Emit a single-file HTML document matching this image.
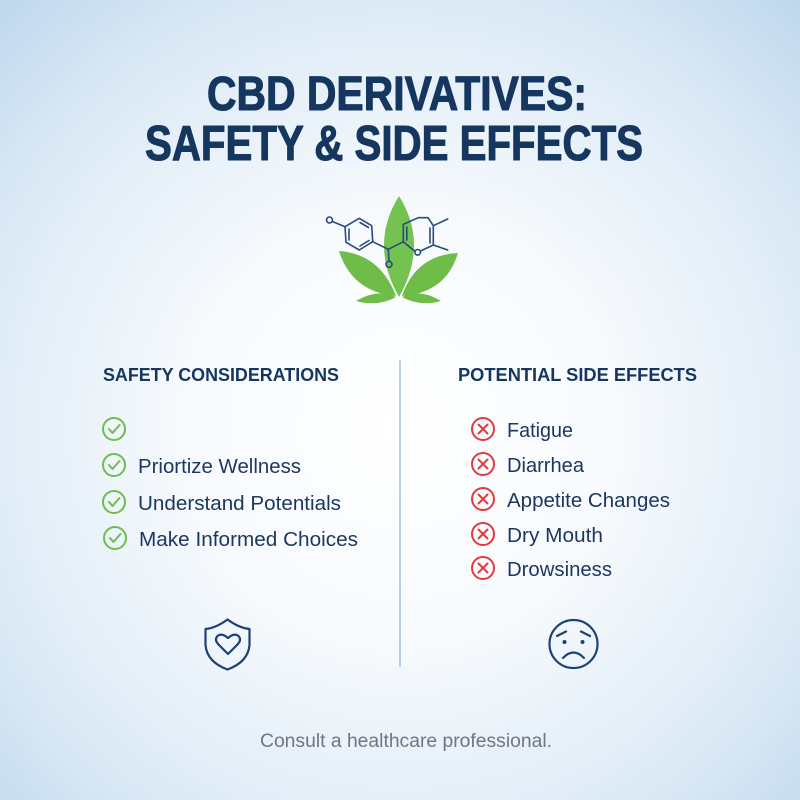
<!DOCTYPE html>
<html>
<head>
<meta charset="utf-8">
<style>
  html,body{margin:0;padding:0;width:800px;height:800px;overflow:hidden;}
  svg{display:block;}
</style>
</head>
<body>
<svg width="800" height="800" viewBox="0 0 800 800" xmlns="http://www.w3.org/2000/svg">
  <defs>
    <radialGradient id="bg" cx="400" cy="430" r="620" gradientUnits="userSpaceOnUse">
      <stop offset="0" stop-color="#ffffff"/>
      <stop offset="0.35" stop-color="#f7fafd"/>
      <stop offset="0.7" stop-color="#dceaf6"/>
      <stop offset="1" stop-color="#b9d4eb"/>
    </radialGradient>
  </defs>
  <rect width="800" height="800" fill="url(#bg)"/>

  <!-- Title -->
  <g font-family="Liberation Sans, Arial, sans-serif" font-weight="bold" fill="#15365f" stroke="#15365f" stroke-width="1.1" stroke-linejoin="round">
    <text x="207" y="110" font-size="48" textLength="380" lengthAdjust="spacingAndGlyphs">CBD DERIVATIVES:</text>
    <text x="145" y="160" font-size="49" textLength="498" lengthAdjust="spacingAndGlyphs">SAFETY &amp; SIDE EFFECTS</text>
  </g>

  <!-- Leaves -->
  <g fill="#6fbd48">
    <path d="M399,297 Q429,244 399,196 Q369,244 399,297 Z" fill="#74c24f"/>
    <path d="M396,296 Q380,254 339,251 Q352,292 396,296 Z"/>
    <path d="M402,296 Q416,255 458,253 Q446,293 402,296 Z"/>
    <path d="M396,297 Q378,288 356,301 Q378,307 396,297 Z"/>
    <path d="M402,297 Q420,288 441,301 Q420,307 402,297 Z"/>
  </g>

  <!-- Molecule -->
  <g fill="none" stroke="#2a4a7a" stroke-width="1.6" stroke-linejoin="round" stroke-linecap="round">
    <circle cx="329.5" cy="220" r="3"/>
    <line x1="332.5" y1="221.5" x2="345" y2="226.7"/>
    <polygon points="359.3,218.3 371.7,225.7 372.7,241.7 359.3,250 346,242.3 345,226.7"/>
    <line x1="349" y1="229" x2="349" y2="240"/>
    <line x1="360" y1="246" x2="369" y2="240.5"/>
    <line x1="360" y1="222.5" x2="368.5" y2="227.5"/>
    <line x1="372.7" y1="241.7" x2="388.3" y2="249.3"/>
    <line x1="388.3" y1="249.3" x2="389" y2="261"/>
    <circle cx="389" cy="264.3" r="3"/>
    <line x1="388.3" y1="249.3" x2="403.3" y2="241.7"/>
    <polyline points="403.3,241.7 403.3,224.3 418.3,217.7 428,217.7 433.3,225.7 433.3,245 420.5,251"/>
    <line x1="414.5" y1="251" x2="403.3" y2="241.7"/>
    <circle cx="417.7" cy="252.3" r="2.8"/>
    <line x1="406.8" y1="227" x2="406.8" y2="240"/>
    <line x1="430" y1="228" x2="430" y2="243"/>
    <line x1="433.3" y1="225.7" x2="447.7" y2="219"/>
    <line x1="433.3" y1="245" x2="447.7" y2="250"/>
  </g>

  <!-- Divider -->
  <line x1="400" y1="360" x2="400" y2="667" stroke="#a3c1dc" stroke-width="1.5"/>

  <!-- Headers -->
  <g font-family="Liberation Sans, Arial, sans-serif" font-weight="bold" fill="#15365f" font-size="18">
    <text x="103" y="381" textLength="236" lengthAdjust="spacingAndGlyphs">SAFETY CONSIDERATIONS</text>
    <text x="458" y="381" textLength="239" lengthAdjust="spacingAndGlyphs">POTENTIAL SIDE EFFECTS</text>
  </g>

  <!-- Checks -->
  <g fill="none" stroke="#6cc04a" stroke-width="2" stroke-linecap="round" stroke-linejoin="round">
    <g transform="translate(114,429)"><circle r="11"/><path d="M-5,0 L-1.5,4 L5.5,-4"/></g>
    <g transform="translate(114,465)"><circle r="11"/><path d="M-5,0 L-1.5,4 L5.5,-4"/></g>
    <g transform="translate(114,502)"><circle r="11"/><path d="M-5,0 L-1.5,4 L5.5,-4"/></g>
    <g transform="translate(115,538)"><circle r="11"/><path d="M-5,0 L-1.5,4 L5.5,-4"/></g>
  </g>
  <g font-family="Liberation Sans, Arial, sans-serif" fill="#1b365f" font-size="20.5">
    <text x="138" y="473" textLength="163" lengthAdjust="spacingAndGlyphs">Priortize Wellness</text>
    <text x="138" y="510" textLength="203" lengthAdjust="spacingAndGlyphs">Understand Potentials</text>
    <text x="139" y="546" textLength="219" lengthAdjust="spacingAndGlyphs">Make Informed Choices</text>
  </g>

  <!-- X marks -->
  <g fill="none" stroke="#e03a3e" stroke-width="2" stroke-linecap="round">
    <g transform="translate(483,429)"><circle r="11"/><path d="M-4.5,-4.5 L4.5,4.5 M4.5,-4.5 L-4.5,4.5"/></g>
    <g transform="translate(483,464)"><circle r="11"/><path d="M-4.5,-4.5 L4.5,4.5 M4.5,-4.5 L-4.5,4.5"/></g>
    <g transform="translate(483,499)"><circle r="11"/><path d="M-4.5,-4.5 L4.5,4.5 M4.5,-4.5 L-4.5,4.5"/></g>
    <g transform="translate(483,534)"><circle r="11"/><path d="M-4.5,-4.5 L4.5,4.5 M4.5,-4.5 L-4.5,4.5"/></g>
    <g transform="translate(483,568)"><circle r="11"/><path d="M-4.5,-4.5 L4.5,4.5 M4.5,-4.5 L-4.5,4.5"/></g>
  </g>
  <g font-family="Liberation Sans, Arial, sans-serif" fill="#1b365f" font-size="20.5">
    <text x="507" y="437" textLength="66" lengthAdjust="spacingAndGlyphs">Fatigue</text>
    <text x="507" y="472" textLength="77" lengthAdjust="spacingAndGlyphs">Diarrhea</text>
    <text x="507" y="507" textLength="163" lengthAdjust="spacingAndGlyphs">Appetite Changes</text>
    <text x="507" y="542" textLength="96" lengthAdjust="spacingAndGlyphs">Dry Mouth</text>
    <text x="507" y="576" textLength="105" lengthAdjust="spacingAndGlyphs">Drowsiness</text>
  </g>

  <!-- Shield icon -->
  <g fill="none" stroke="#1e4274" stroke-width="2.2" stroke-linejoin="round" stroke-linecap="round">
    <path d="M227.5,619.5 Q216,628 205.5,629 L205.5,645 Q207,662 227.5,669.5 Q248,662 249.5,645 L249.5,629 Q239,628 227.5,619.5 Z"/>
    <path d="M228,654 L218.5,644.5 Q214,639.5 217.5,636 Q221.5,632.5 228,638 Q234.5,632.5 238.5,636 Q242,639.5 237.5,644.5 Z"/>
  </g>

  <!-- Sad face icon -->
  <g fill="none" stroke="#1e4274" stroke-width="2.2" stroke-linecap="round">
    <circle cx="573.5" cy="644" r="24"/>
    <path d="M557,636 L566,631.5"/>
    <path d="M581,631.5 L590,636"/>
    <path d="M563,658 Q573.5,647 584,658"/>
  </g>
  <circle cx="564.5" cy="642" r="2" fill="#1e4274"/>
  <circle cx="582.5" cy="642" r="2" fill="#1e4274"/>

  <!-- Footer -->
  <text x="260" y="747" font-family="Liberation Sans, Arial, sans-serif" font-size="19" fill="#6f7680" textLength="292" lengthAdjust="spacingAndGlyphs">Consult a healthcare professional.</text>
</svg>
</body>
</html>
